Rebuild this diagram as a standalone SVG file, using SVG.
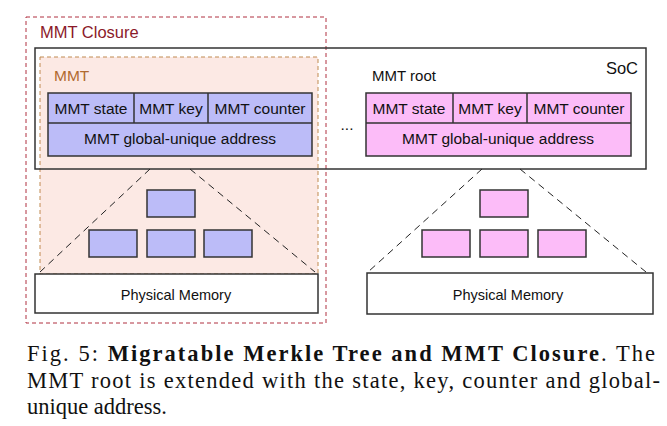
<svg xmlns="http://www.w3.org/2000/svg" width="667" height="426" viewBox="0 0 667 426">
<style>
.t{font-family:"Liberation Sans",Arial,sans-serif;font-size:15.5px;fill:#111}
.c{text-anchor:middle}
.cap{font-family:"Liberation Serif","Times New Roman",serif;font-size:22.5px;fill:#111}
.blue{fill:#bcbcf8;stroke:#333;stroke-width:1.5}
.pink{fill:#fcbcf8;stroke:#333;stroke-width:1.5}
.dl{stroke:#222;stroke-width:1;stroke-dasharray:7,5;fill:none}
</style>
<rect width="667" height="426" fill="#fff"/>
<g id="closure">
<rect x="26" y="17" width="300" height="306" fill="none" stroke="#b03040" stroke-width="1" stroke-dasharray="4,3"/>
<text x="40" y="38" font-family="Liberation Sans,sans-serif" font-size="16.5" fill="#8b1a2a">MMT Closure</text>
</g>
<g id="mmt">
<rect x="40" y="57" width="278" height="217" fill="#fce9e4" stroke="#c08a50" stroke-width="1" stroke-dasharray="4,3"/>
<text x="54" y="81" font-family="Liberation Sans,sans-serif" font-size="15.5" fill="#b06a30">MMT</text>
</g>
<g id="soc">
<rect x="35" y="48" width="611" height="121" fill="none" stroke="#333" stroke-width="1.5"/>
<text x="638" y="74" class="t" style="text-anchor:end;font-size:16.5px">SoC</text>
<text x="372" y="81" class="t" style="font-size:15px">MMT root</text>
<text x="347" y="130" class="t c">...</text>
</g>
<g id="connectors">
<line x1="150" y1="169" x2="40" y2="272" class="dl"/>
<line x1="190" y1="169" x2="315" y2="272" class="dl"/>
<line x1="482" y1="169" x2="368" y2="272" class="dl"/>
<line x1="520" y1="169" x2="646" y2="272" class="dl"/>
</g>
<g id="table-left">
<rect x="48" y="93" width="264" height="63" class="blue"/>
<line x1="48" y1="123" x2="312" y2="123" stroke="#333" stroke-width="1.5"/>
<line x1="134" y1="93" x2="134" y2="123" stroke="#333" stroke-width="1.5"/>
<line x1="208" y1="93" x2="208" y2="123" stroke="#333" stroke-width="1.5"/>
<text x="91" y="114" class="t c">MMT state</text>
<text x="171" y="114" class="t c">MMT key</text>
<text x="260" y="114" class="t c">MMT counter</text>
<text x="180" y="144" class="t c">MMT global-unique address</text>
</g>
<g id="table-right">
<rect x="366" y="93" width="265" height="63" class="pink"/>
<line x1="366" y1="123" x2="631" y2="123" stroke="#333" stroke-width="1.5"/>
<line x1="453" y1="93" x2="453" y2="123" stroke="#333" stroke-width="1.5"/>
<line x1="527" y1="93" x2="527" y2="123" stroke="#333" stroke-width="1.5"/>
<text x="409" y="114" class="t c">MMT state</text>
<text x="490" y="114" class="t c">MMT key</text>
<text x="579" y="114" class="t c">MMT counter</text>
<text x="498" y="144" class="t c">MMT global-unique address</text>
</g>
<g id="tree-left">
<rect x="147" y="190" width="48" height="27" class="blue"/>
<rect x="89" y="230" width="48" height="27" class="blue"/>
<rect x="147" y="230" width="48" height="27" class="blue"/>
<rect x="204" y="230" width="48" height="27" class="blue"/>
</g>
<g id="tree-right">
<rect x="480" y="190" width="48" height="27" class="pink"/>
<rect x="422" y="230" width="48" height="27" class="pink"/>
<rect x="480" y="230" width="48" height="27" class="pink"/>
<rect x="538" y="230" width="48" height="27" class="pink"/>
</g>
<g id="mem-left">
<rect x="35" y="274" width="283" height="39" fill="#fff" stroke="#333" stroke-width="1.5"/>
<text x="176" y="300" class="t c" style="font-size:14.5px">Physical Memory</text>
</g>
<g id="mem-right">
<rect x="367" y="273" width="286" height="41" fill="#fff" stroke="#333" stroke-width="1.5"/>
<text x="508" y="300" class="t c" style="font-size:14.5px">Physical Memory</text>
</g>
<g id="caption">
<text x="27" y="361" class="cap" textLength="628" lengthAdjust="spacing">Fig. 5: <tspan font-weight="bold">Migratable Merkle Tree and MMT Closure</tspan>. The</text>
<text x="27" y="388" class="cap" textLength="633" lengthAdjust="spacing">MMT root is extended with the state, key, counter and global-</text>
<text x="27" y="414" class="cap">unique address.</text>
</g>
</svg>
